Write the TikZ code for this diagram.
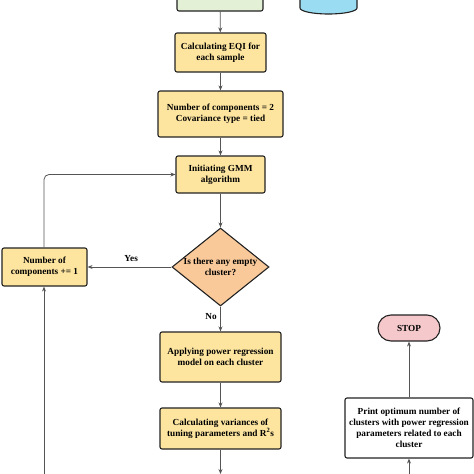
\documentclass[tikz,border=0pt]{standalone}
\usepackage{fontspec}
\setmainfont{Liberation Serif}
\usetikzlibrary{shapes.geometric,arrows.meta}
\definecolor{boxfill}{HTML}{FDE5A0}
\definecolor{diafill}{HTML}{F9C99A}
\definecolor{greenfill}{HTML}{E3F0D5}
\definecolor{cylfill}{HTML}{9ADCF2}
\definecolor{stopfill}{HTML}{F5C8CB}
\definecolor{edge}{HTML}{222222}
\definecolor{linec}{HTML}{555555}
\tikzset{
  box/.style={draw=edge, line width=1.1pt, rounded corners=2pt, fill=boxfill, align=center, inner sep=1pt, font=\fontsize{9.25}{11}\selectfont\bfseries},
  wbox/.style={box, fill=white},
  dia/.style={draw=edge, line width=1.1pt, shape=diamond, fill=diafill, inner sep=0pt},
  txt/.style={align=center, font=\fontsize{9.25}{11}\selectfont\bfseries},
  stopbox/.style={draw=edge, line width=1.1pt, rounded corners=13pt, fill=stopfill, font=\fontsize{9.25}{11}\selectfont\bfseries},
  conn/.style={draw=linec, line width=0.8pt, -{Stealth[length=5pt,width=4pt]}},
  lbl/.style={font=\fontsize{9.25}{11}\selectfont\bfseries}
}
\begin{document}
\begin{tikzpicture}[x=1pt,y=-1pt]
\useasboundingbox (0,0) rectangle (474,474);
\clip (0,0) rectangle (474,474);
% nodes
\node[box, fill=greenfill, minimum width=86pt, minimum height=31pt] (green) at (220,-4.5) {};
\draw[draw=edge, line width=1.1pt, fill=cylfill] (300,-10) -- (300,8) arc[start angle=180, end angle=0, x radius=28.5, y radius=6] -- (357,-10);
\node[box, minimum width=91pt, minimum height=39pt] (eqi) at (220.5,52.5) {Calculating EQI for\\each sample};
\node[box, minimum width=125pt, minimum height=46pt] (ncomp) at (220.5,114) {Number of components = 2\\Covariance type = tied};
\node[box, minimum width=89pt, minimum height=37pt] (gmm) at (220.5,174.5) {Initiating GMM\\algorithm};
\node[dia, minimum width=97pt, minimum height=78pt] (q) at (220.5,267) {};
\node[txt] (qt) at (q) {Is there any empty\\cluster?};
\node[box, minimum width=85pt, minimum height=38pt] (inc) at (44.5,267) {Number of\\components += 1};
\node[box, minimum width=121pt, minimum height=50pt] (apply) at (220.5,357) {Applying power regression\\model on each cluster};
\node[box, minimum width=121pt, minimum height=41pt] (var) at (220.5,428.5) {Calculating variances of\\tuning parameters and R\textsuperscript{2}s};
\node[wbox, minimum width=128pt, minimum height=60pt] (print) at (409,428) {Print optimum number of\\clusters with power regression\\parameters related to each\\cluster};
\node[stopbox, minimum width=62pt, minimum height=26pt] (stop) at (409,328) {STOP};
\coordinate (vend) at (220.5,474);
\coordinate (lstart) at (44,480);
\coordinate (pstart) at (409,480);
% connectors
\draw[conn] (green) -- (eqi);
\draw[conn] (eqi) -- (ncomp);
\draw[conn] (ncomp) -- (gmm);
\draw[conn] (gmm) -- (q);
\draw[conn] (q.west) -- node[lbl, above, pos=0.48, yshift=2pt] {Yes} (inc.east);
\draw[conn] (q.south) -- node[lbl, left, pos=0.4] {No} (apply.north);
\draw[conn] (apply) -- (var);
\draw[conn] (var) -- (vend);
\draw[conn, rounded corners=5pt] (inc.north -| lstart) |- (gmm.west);
\draw[conn] (lstart) -- (inc.south -| lstart);
\draw[conn] (pstart) -- (print.south);
\draw[conn] (print) -- (stop);
\end{tikzpicture}
\end{document}
